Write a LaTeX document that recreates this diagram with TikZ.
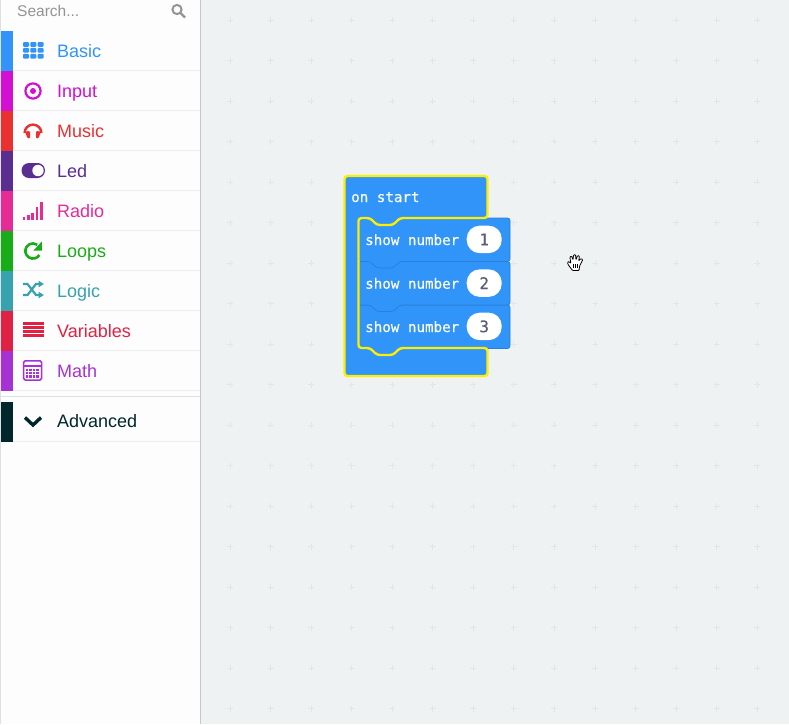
\documentclass[tikz,border=0pt]{standalone}
\usepackage{fontspec}
\setmainfont{Liberation Sans}
\setmonofont[FakeBold=0.25]{DejaVu Sans Mono}
\definecolor{workspacebg}{HTML}{EEF2F3}
\definecolor{sidebarbg}{HTML}{FEFDFE}
\definecolor{blockblue}{HTML}{3094F8}
\definecolor{blockedge}{HTML}{2A7FD8}
\definecolor{hatyellow}{HTML}{FFEE00}
\definecolor{colInput}{HTML}{D20FD2}
\definecolor{colMusic}{HTML}{EA3030}
\definecolor{colLed}{HTML}{5A2D91}
\definecolor{colRadio}{HTML}{E62A96}
\definecolor{colLoops}{HTML}{18AC18}
\definecolor{colLogic}{HTML}{35A2AE}
\definecolor{colVariables}{HTML}{DF2244}
\definecolor{colMath}{HTML}{A732D4}
\definecolor{colAdvanced}{HTML}{00272B}
\definecolor{numgray}{HTML}{575E75}
\tikzset{
    catlabel/.style={anchor=base west,inner sep=0pt,font=\fontsize{18}{20}\selectfont},
    codelabel/.style={anchor=base west,inner sep=0pt,text=white,font=\ttfamily\fontsize{14.2}{16}\selectfont},
    numpill/.style={fill=white,rounded corners=13pt,inner sep=0pt,minimum width=35pt,minimum height=27.5pt,text=numgray,font=\ttfamily\fontsize{16}{18}\selectfont},
    gridmark/.style={draw=black!5!workspacebg,line width=0.8pt},
    rowline/.style={draw=black!7,line width=0.8pt},
}
\begin{document}
\begin{tikzpicture}[x=1pt,y=-1pt]
    \useasboundingbox (0,0) rectangle (789,724);
    \fill[workspacebg] (0,0) rectangle (789,724);
    \foreach \i in {0,...,13}{
        \foreach \j in {0,...,17}{
            \draw[gridmark] ({230+40.55*\i-3},{20+40.5*\j}) -- ++(6,0);
            \draw[gridmark] ({230+40.55*\i},{20+40.5*\j-3}) -- ++(0,6);
        }
    }
    % sidebar
    \fill[sidebarbg] (0,0) rectangle (200,724);
    \fill[black!22] (199.6,0) rectangle (201,724);
    \fill[black!12] (0,0) rectangle (1,724);
    \node[anchor=base west,inner sep=0pt,text=black!42,font=\fontsize{15.5}{18}\selectfont] (search) at (17,16) {Search...};
    \draw[black!42,line width=2pt] (177,9.5) circle (4.6pt);
    \draw[black!42,line width=2.4pt] (180.5,13) -- (185,17.5);
    \foreach \name/\col/\k in {Basic/blockblue/0,Input/colInput/1,Music/colMusic/2,Led/colLed/3,Radio/colRadio/4,Loops/colLoops/5,Logic/colLogic/6,Variables/colVariables/7,Math/colMath/8}{
        \fill[\col] (1,{31+40*\k}) rectangle (13,{71+40*\k});
        \draw[rowline] (13,{70.5+40*\k}) -- (199.6,{70.5+40*\k});
        \node[catlabel,text=\col] (label\name) at (57,{57+40*\k}) {\name};
    }
    \draw[draw=black!12,line width=0.8pt] (1,396.5) -- (199.6,396.5);
    \fill[colAdvanced] (1,402) rectangle (13,442);
    \draw[rowline] (13,441.5) -- (199.6,441.5);
    \node[catlabel,text=colAdvanced] (labelAdvanced) at (57,427.7) {Advanced};
    % category icons
    \foreach \a in {0,1,2}{
        \foreach \b in {0,1,2}{
            \fill[blockblue,rounded corners=1pt] ({23+7.3*\a},{42+5.9*\b}) rectangle ++(6,4.8);
        }
    }
    \draw[colInput,line width=2.2pt] (33,91) circle (7.6pt);
    \fill[colInput] (33,91) circle (3pt);
    \draw[colMusic,line width=2.4pt] (24.6,133) arc[start angle=180,end angle=0,radius=8.4pt];
    \fill[colMusic,rounded corners=1pt] (25,131.5) -- (30,131) -- (30,138.3) -- (27.5,138.3) -- cycle;
    \fill[colMusic,rounded corners=1pt] (41,131.5) -- (36,131) -- (36,138.3) -- (38.5,138.3) -- cycle;
    \fill[colLed,rounded corners=7.5pt] (21.5,163) rectangle (45,178);
    \fill[white] (38,170.5) circle (5.7pt);
    \foreach \bx/\bh in {24/2.5,28.2/4.5,32.6/7,37/12.5,41.5/18}{
        \fill[colRadio] ({\bx-1.4},219.7) rectangle ({\bx+1.4},{219.7-\bh});
    }
    \draw[colLoops,line width=2.6pt] (39.4,255) arc[start angle=-32,end angle=-305,radius=7.6pt];
    \fill[colLoops] (41.8,241.5) -- (41.8,250.5) -- (33.5,250.5) -- cycle;
    \draw[colLogic,line width=2.2pt] (23,284) -- (27.5,284) -- (36,295) -- (40,295);
    \draw[colLogic,line width=2.2pt] (23,295) -- (27.5,295) -- (36,284) -- (40,284);
    \fill[colLogic] (38.5,280.6) -- (43.8,284) -- (38.5,287.4) -- cycle;
    \fill[colLogic] (38.5,291.6) -- (43.8,295) -- (38.5,298.4) -- cycle;
    \foreach \k in {0,1,2,3}{
        \fill[colVariables] (23,{321.7+4.1*\k}) rectangle (43.7,{324.9+4.1*\k});
    }
    \draw[colMath,line width=1.5pt,rounded corners=1.5pt] (23.7,360.8) rectangle (41.5,380);
    \draw[colMath,line width=1.5pt] (23.7,366) -- (41.5,366);
    \foreach \a in {0,1,2,3}{
        \foreach \b in {0,1,2}{
            \fill[colMath] ({26+3.4*\a},{368.6+3.4*\b}) rectangle ++(2.4,2.4);
        }
    }
    \draw[colAdvanced,line width=3.4pt] (25,417.5) -- (33,425) -- (41,417.5);
    % show number blocks
    \foreach \y in {305,261.5,218}{
        \draw[fill=blockblue,draw=blockedge,line width=0.7pt,rounded corners=2.5pt] (358.5,\y) -- (510,\y) -- (510,{\y+43.5}) -- (400,{\y+43.5}) -- (393,{\y+50}) -- (377,{\y+50}) -- (370,{\y+43.5}) -- (358.5,{\y+43.5}) -- cycle;
    }
    % on start block
    \draw[fill=blockblue,draw=hatyellow,line width=2.4pt,rounded corners=3pt] (344.5,176) -- (487.5,176) -- (487.5,218) -- (400,218) -- (393,225) -- (377,225) -- (370,218) -- (358.5,218) -- (358.5,348) -- (370,348) -- (377,355) -- (393,355) -- (400,348) -- (487.5,348) -- (487.5,376) -- (344.5,376) -- cycle;
    \node[codelabel] (onstart) at (351,202) {on start};
    \foreach \n/\y in {1/245,2/288.7,3/332}{
        \node[codelabel] (show\n) at (365,\y) {show number};
        \node[numpill] (num\n) at (484.2,{\y-5.6}) {\n};
    }
    % hand cursor
    \draw[fill=white,draw=black,line width=0.8pt,rounded corners=0.8pt,line join=round] (572.5,270.5) -- (568,264.5) -- (567.5,262) -- (569,261.5) -- (571,263.5) -- (569.8,257) -- (571.5,256) -- (573,260) -- (573.5,255) -- (575.5,254.5) -- (576,260) -- (577.5,255.5) -- (579.5,256) -- (578.6,261) -- (581,258.5) -- (582.8,259.5) -- (579.6,266) -- (579,270.5) -- cycle;
    \foreach \hx in {573.6,575.6,577.6}{
        \draw[black,line width=0.8pt] (\hx,264) -- (\hx,268);
    }
\end{tikzpicture}
\end{document}
